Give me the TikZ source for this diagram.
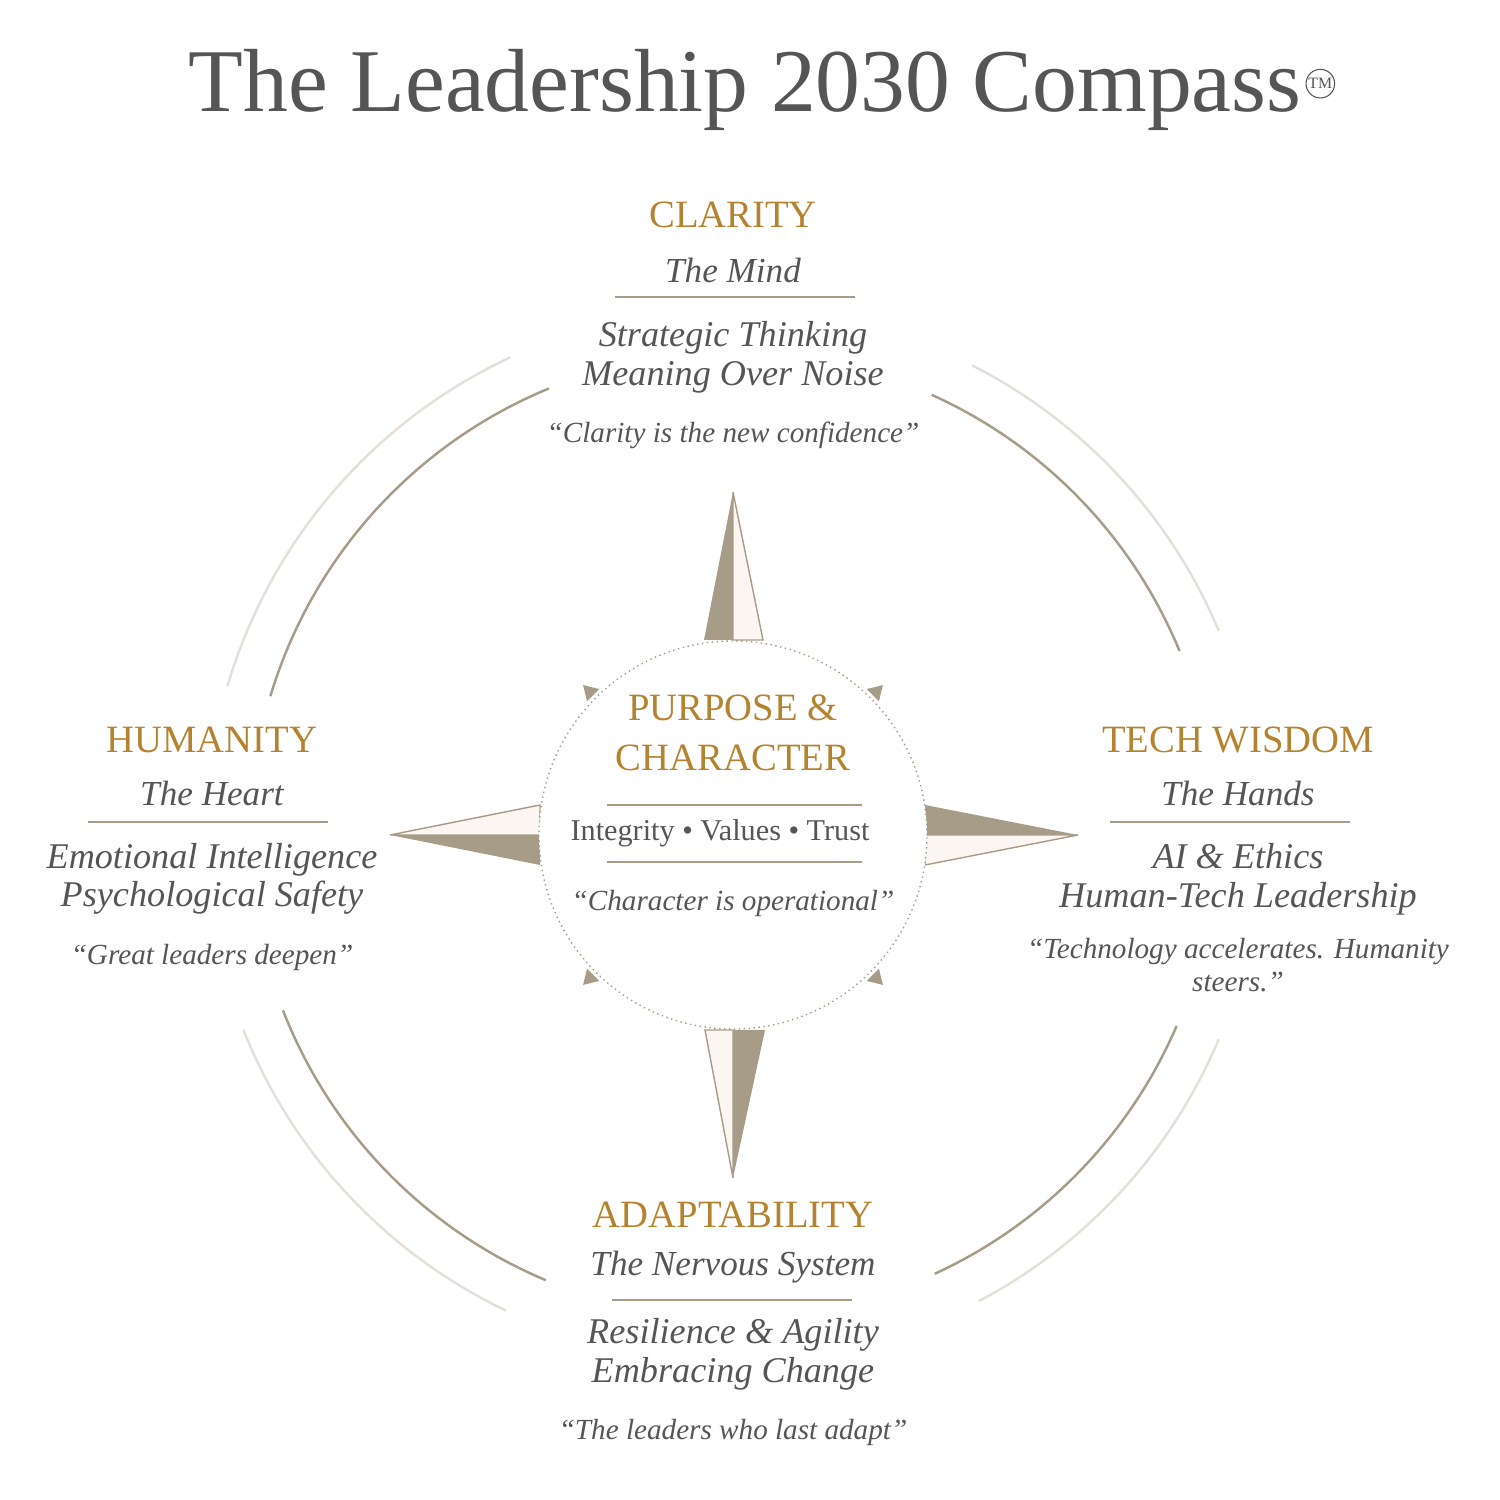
\documentclass[tikz,border=0pt]{standalone}
\usepackage{fontspec}
\setmainfont{Liberation Serif}
\usepackage{tikz}
\usetikzlibrary{calc}
\definecolor{gold}{HTML}{B5832F}
\definecolor{ink}{HTML}{555555}
\definecolor{taupe}{HTML}{A69C88}
\definecolor{cream}{HTML}{FBF6F1}
\definecolor{pale}{HTML}{E4E0D9}
\tikzset{
  heading/.style={text=gold, font=\fontsize{11}{13}\selectfont, inner sep=0pt},
  subtitle/.style={text=ink, font=\fontsize{10}{12}\selectfont\itshape, inner sep=0pt},
  body/.style={text=ink, font=\fontsize{10.3}{11}\selectfont\itshape, align=center, inner sep=0pt},
  quote/.style={text=ink, font=\fontsize{8.3}{9.5}\selectfont\itshape, align=center, inner sep=0pt},
  rulel/.style={draw=taupe, line width=0.6pt},
  inarc/.style={draw=taupe, line width=0.7pt},
  outarc/.style={draw=pale, line width=0.7pt},
  darkpt/.style={fill=taupe},
  lightpt/.style={fill=cream, draw=taupe, line width=0.4pt}
}
\begin{document}
\begin{tikzpicture}
\useasboundingbox (0,0) rectangle (15,15);
\coordinate (c) at (7.33,6.65);

% title
\node[text=ink, font=\fontsize{25.5}{30}\selectfont, inner sep=0pt] (title) at (7.45,14.1) {The Leadership 2030 Compass};
\node[circle, draw=ink, line width=0.3pt, inner sep=0.3pt, text=ink, font=\fontsize{4.5}{5}\selectfont, anchor=west] (tm) at ([xshift=1pt, yshift=-0.35cm]title.north east) {TM};

% arcs
\foreach \s/\e in {22.4/65.7, 112.4/163.3, 201.3/247.2, 294.7/336.7}
  \draw[inarc] ([shift={(\s:4.83)}]c) arc (\s:\e:4.83);
\foreach \s/\e in {22.8/63, 115/163.6, 201.7/244.5, 297.8/337.2}
  \draw[outarc] ([shift={(\s:5.27)}]c) arc (\s:\e:5.27);

% compass points
\fill[darkpt] ($(c)+(0,3.43)$) -- ($(c)+(-0.29,1.95)$) -- ($(c)+(0,1.95)$) -- cycle;
\filldraw[lightpt] ($(c)+(0,3.43)$) -- ($(c)+(0,1.95)$) -- ($(c)+(0.3,1.95)$) -- cycle;
\fill[darkpt] ($(c)+(3.45,0)$) -- ($(c)+(1.92,0.3)$) -- ($(c)+(1.92,0)$) -- cycle;
\filldraw[lightpt] ($(c)+(3.45,0)$) -- ($(c)+(1.92,0)$) -- ($(c)+(1.92,-0.3)$) -- cycle;
\fill[darkpt] ($(c)+(-3.43,0)$) -- ($(c)+(-1.93,-0.3)$) -- ($(c)+(-1.93,0)$) -- cycle;
\filldraw[lightpt] ($(c)+(-3.43,0)$) -- ($(c)+(-1.93,0)$) -- ($(c)+(-1.93,0.3)$) -- cycle;
\fill[darkpt] ($(c)+(0,-3.43)$) -- ($(c)+(0.32,-1.95)$) -- ($(c)+(0,-1.95)$) -- cycle;
\filldraw[lightpt] ($(c)+(0,-3.43)$) -- ($(c)+(0,-1.95)$) -- ($(c)+(-0.28,-1.95)$) -- cycle;
\foreach \a in {45,135,225,315}
  \fill[taupe] ($(c)+(\a:2.12)$) -- ($(c)+(\a+2.5:1.98)$) -- ($(c)+(\a-2.5:1.98)$) -- cycle;

% centre
\node[circle, draw=taupe, densely dotted, fill=white, minimum size=3.88cm, inner sep=0pt] (core) at (c) {};
\node[heading] (purpose) at (7.33,7.92) {PURPOSE \&};
\node[heading] (character) at (7.33,7.42) {CHARACTER};
\draw[rulel] (6.07,6.95) -- (8.62,6.95);
\node[text=ink, font=\fontsize{8.6}{10}\selectfont, inner sep=0pt] (values) at (7.2,6.67) {Integrity • Values • Trust};
\draw[rulel] (6.07,6.38) -- (8.62,6.38);
\node[quote] (cq) at (7.33,5.97) {“Character is operational”};

% north
\node[heading] (clarity) at (7.33,12.85) {CLARITY};
\node[subtitle] (mind) at (7.33,12.3) {The Mind};
\draw[rulel] (6.15,12.03) -- (8.55,12.03);
\node[body] (cbody) at (7.33,11.43) {Strategic Thinking\\Meaning Over Noise};
\node[quote] (nq) at (7.33,10.65) {“Clarity is the new confidence”};

% west
\node[heading] (humanity) at (2.12,7.6) {HUMANITY};
\node[subtitle] (heart) at (2.12,7.07) {The Heart};
\draw[rulel] (0.88,6.78) -- (3.28,6.78);
\node[body] (hbody) at (2.12,6.21) {Emotional Intelligence\\Psychological Safety};
\node[quote] (wq) at (2.12,5.43) {“Great leaders deepen”};

% east
\node[heading] (tech) at (12.38,7.6) {TECH WISDOM};
\node[subtitle] (hands) at (12.38,7.07) {The Hands};
\draw[rulel] (11.1,6.78) -- (13.5,6.78);
\node[body] (tbody) at (12.38,6.21) {AI \& Ethics\\Human-Tech Leadership};
\node[quote] (eq) at (12.38,5.35) {“Technology accelerates. Humanity\\steers.”};

% south
\node[heading] (adapt) at (7.33,2.85) {ADAPTABILITY};
\node[subtitle] (nerves) at (7.33,2.33) {The Nervous System};
\draw[rulel] (6.12,2.0) -- (8.52,2.0);
\node[body] (abody) at (7.33,1.46) {Resilience \& Agility\\Embracing Change};
\node[quote] (sq) at (7.33,0.68) {“The leaders who last adapt”};
\end{tikzpicture}
\end{document}
